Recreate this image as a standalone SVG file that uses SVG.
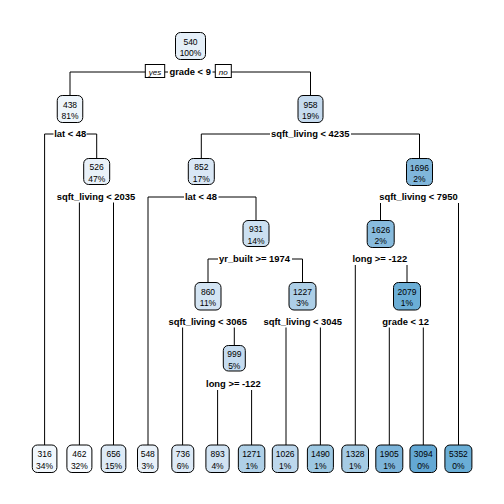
<svg xmlns="http://www.w3.org/2000/svg" width="504" height="504" viewBox="0 0 504 504">
<style>
.bg{fill:#fff}
.nd rect{stroke:#000;stroke-width:1}
.nd text{font-family:"Liberation Sans",Arial,sans-serif;font-size:8.5px;text-anchor:middle;fill:#000}
.c{fill:none;stroke:#000;stroke-width:1}
.s{font-family:"Liberation Sans",Arial,sans-serif;font-size:9.4px;font-weight:bold;text-anchor:middle;fill:#000}
.yn rect{fill:#fff;stroke:#000;stroke-width:1}
.yn text{font-family:"Liberation Sans",Arial,sans-serif;font-size:8px;font-style:italic;text-anchor:middle;fill:#000}
</style>
<rect class="bg" x="0" y="0" width="504" height="504"/>
<g id="connectors">
<path class="c" d="M70,95.5 V72 H168 M212.5,72 H310.5 V95.5"/>
<path class="c" d="M44.6,445 V134 H53.5 M86.5,134 H96.7 V158.5"/>
<path class="c" d="M79.4,202.5 V445 M113.5,202.5 V445"/>
<path class="c" d="M201.3,158.5 V134 H270 M351,134 H419.5 V158.5"/>
<path class="c" d="M148,445 V197 H184 M218.5,197 H256 V220.5"/>
<path class="c" d="M380.5,203 V220.5 M458.5,203 V445"/>
<path class="c" d="M208,282.5 V259 H218 M292,259 H302.5 V282.5"/>
<path class="c" d="M355.3,265 V445 M407,265 V282.5"/>
<path class="c" d="M182.6,327.5 V445 M234.3,327.5 V345.5"/>
<path class="c" d="M286,327.5 V445 M320.4,327.5 V445"/>
<path class="c" d="M389.3,327.5 V445 M423.3,327.5 V445"/>
<path class="c" d="M217.6,390 V445 M251.6,390 V445"/>
<g class="yn">
<rect x="145.3" y="64.5" width="19.4" height="13"/><text x="155" y="74.5">yes</text>
<rect x="215.3" y="64.5" width="16" height="13"/><text x="223.3" y="74.5">no</text>
</g>
<text class="s" x="190.2" y="75.4">grade &lt; 9</text>
<text class="s" x="70.2" y="137.4">lat &lt; 48</text>
<text class="s" x="310.2" y="137.4">sqft_living &lt; 4235</text>
<text class="s" x="96" y="200.4">sqft_living &lt; 2035</text>
<text class="s" x="201" y="200.4">lat &lt; 48</text>
<text class="s" x="418.5" y="200.4">sqft_living &lt; 7950</text>
<text class="s" x="254.5" y="262.4">yr_built &gt;= 1974</text>
<text class="s" x="379.8" y="262.4">long &gt;= -122</text>
<text class="s" x="207.7" y="325.4">sqft_living &lt; 3065</text>
<text class="s" x="302.7" y="325.4">sqft_living &lt; 3045</text>
<text class="s" x="405.7" y="325.4">grade &lt; 12</text>
<text class="s" x="233.4" y="387.4">long &gt;= -122</text>
</g>
<g id="n540" class="nd"><rect x="175.5" y="32.5" width="30" height="27" rx="5" fill="#E5EFF8"/><text x="190.5" y="44.5">540</text><text x="190.5" y="56.3">100%</text></g>
<g id="n438" class="nd"><rect x="57.25" y="95.5" width="25.5" height="27" rx="5" fill="#EEF5FB"/><text x="70" y="107.5">438</text><text x="70" y="119.3">81%</text></g>
<g id="n958" class="nd"><rect x="298" y="95.5" width="25" height="27" rx="5" fill="#C6DBEF"/><text x="310.5" y="107.5">958</text><text x="310.5" y="119.3">19%</text></g>
<g id="n526" class="nd"><rect x="83.7" y="158.5" width="26" height="26" rx="5" fill="#E9F1F9"/><text x="96.7" y="170">526</text><text x="96.7" y="181.5">47%</text></g>
<g id="n852" class="nd"><rect x="188.3" y="158.5" width="26" height="26" rx="5" fill="#D9E7F5"/><text x="201.3" y="170">852</text><text x="201.3" y="181.5">17%</text></g>
<g id="n1696" class="nd"><rect x="406.5" y="158.5" width="26" height="27" rx="5" fill="#80B6DB"/><text x="419.5" y="170.5">1696</text><text x="419.5" y="182.3">2%</text></g>
<g id="n931" class="nd"><rect x="243" y="220.5" width="26" height="26" rx="5" fill="#CCE0F1"/><text x="256" y="232">931</text><text x="256" y="243.5">14%</text></g>
<g id="n1626" class="nd"><rect x="367.2" y="220.5" width="27" height="27" rx="5" fill="#88BBDD"/><text x="380.7" y="232.5">1626</text><text x="380.7" y="244.3">2%</text></g>
<g id="n860" class="nd"><rect x="195" y="282.5" width="26" height="27.5" rx="5" fill="#D3E4F3"/><text x="208" y="294.5">860</text><text x="208" y="306.3">11%</text></g>
<g id="n1227" class="nd"><rect x="289" y="282.5" width="27" height="27.5" rx="5" fill="#ADCFE7"/><text x="302.5" y="294.5">1227</text><text x="302.5" y="306.3">3%</text></g>
<g id="n2079" class="nd"><rect x="393.5" y="282.5" width="27" height="27.5" rx="5" fill="#6BAED6"/><text x="407" y="294.5">2079</text><text x="407" y="306.3">1%</text></g>
<g id="n999" class="nd"><rect x="223.3" y="345.5" width="22" height="25.5" rx="5" fill="#C5DBEF"/><text x="234.3" y="357">999</text><text x="234.3" y="368.5">5%</text></g>
<g id="n316" class="nd"><rect x="32.3" y="445" width="24.6" height="27.5" rx="5" fill="#F1F7FC"/><text x="44.6" y="457.3">316</text><text x="44.6" y="469">34%</text></g>
<g id="n462" class="nd"><rect x="66.9" y="445" width="25" height="27.5" rx="5" fill="#F7FBFF"/><text x="79.4" y="457.3">462</text><text x="79.4" y="469">32%</text></g>
<g id="n656" class="nd"><rect x="101.15" y="445" width="24.7" height="27.5" rx="5" fill="#DDEAF6"/><text x="113.5" y="457.3">656</text><text x="113.5" y="469">15%</text></g>
<g id="n548" class="nd"><rect x="137.5" y="445" width="20.5" height="27.5" rx="5" fill="#E9F1F9"/><text x="147.75" y="457.3">548</text><text x="147.75" y="469">3%</text></g>
<g id="n736" class="nd"><rect x="171.8" y="445" width="22" height="27.5" rx="5" fill="#DCE9F6"/><text x="182.8" y="457.3">736</text><text x="182.8" y="469">6%</text></g>
<g id="n893" class="nd"><rect x="205.9" y="445" width="23.3" height="27.5" rx="5" fill="#D1E3F3"/><text x="217.55" y="457.3">893</text><text x="217.55" y="469">4%</text></g>
<g id="n1271" class="nd"><rect x="238.35" y="445" width="26.5" height="27.5" rx="5" fill="#AFD0E7"/><text x="251.6" y="457.3">1271</text><text x="251.6" y="469">1%</text></g>
<g id="n1026" class="nd"><rect x="272.3" y="445" width="25.7" height="27.5" rx="5" fill="#BDD7EC"/><text x="285.15" y="457.3">1026</text><text x="285.15" y="469">1%</text></g>
<g id="n1490" class="nd"><rect x="307.4" y="445" width="26" height="27.5" rx="5" fill="#9DC8E2"/><text x="320.4" y="457.3">1490</text><text x="320.4" y="469">1%</text></g>
<g id="n1328" class="nd"><rect x="341.8" y="445" width="26.7" height="27.5" rx="5" fill="#A5CBE4"/><text x="355.15" y="457.3">1328</text><text x="355.15" y="469">1%</text></g>
<g id="n1905" class="nd"><rect x="375.8" y="445" width="27" height="27.5" rx="5" fill="#7CB4DA"/><text x="389.3" y="457.3">1905</text><text x="389.3" y="469">1%</text></g>
<g id="n3094" class="nd"><rect x="409.95" y="445" width="26.7" height="27.5" rx="5" fill="#63A8D4"/><text x="423.3" y="457.3">3094</text><text x="423.3" y="469">0%</text></g>
<g id="n5352" class="nd"><rect x="444.9" y="445" width="27" height="27.5" rx="5" fill="#6AAED6"/><text x="458.4" y="457.3">5352</text><text x="458.4" y="469">0%</text></g>
</svg>
